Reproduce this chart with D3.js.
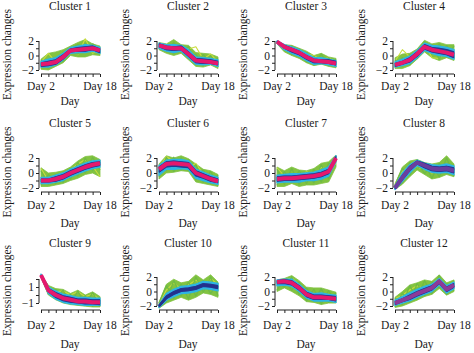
<!DOCTYPE html>
<html><head><meta charset="utf-8">
<script src="https://cdn.jsdelivr.net/npm/d3@7"></script>
<style>body{margin:0;background:#fff}svg{display:block}text{font-family:"Liberation Serif","DejaVu Serif",serif;fill:#1a1a1a}</style>
</head><body><svg id="c" width="474" height="353"></svg>
<script>
const days = ["Day 2","Day 4","Day 6","Day 8","Day 10","Day 12","Day 14","Day 16","Day 18"];
const clusterNames = ["Cluster 1","Cluster 2","Cluster 3","Cluster 4","Cluster 5","Cluster 6","Cluster 7","Cluster 8","Cluster 9","Cluster 10","Cluster 11","Cluster 12"];
// line order: yellow-green, green top, green bottom, green a, green b, cyan a, cyan b, blue a, blue b, centre
const lineKinds = ["Y","G","G","G","G","C","C","B","B","P"];
const cluster1 = [
 [-0.9,0.3,-0.9,-0.3,1.0,0.1,2.3,0.3,0.8],
 [-0.5,0.3,0.5,0.8,1.3,1.8,2.2,1.6,1.3],
 [-1.9,-2.0,-1.5,-1.0,0.0,-0.2,-0.2,0.1,0.0],
 [-1.4,-0.6,-1.0,0.4,0.9,1.5,1.0,1.6,0.9],
 [-0.6,-1.7,-0.5,-0.8,0.6,0.2,1.7,0.5,1.1],
 [-0.8,-0.5,-0.3,0.3,1.1,1.3,1.5,1.4,1.1],
 [-1.6,-1.6,-1.3,-0.6,0.3,0.4,0.4,0.6,0.3],
 [-1.0,-0.8,-0.6,0.1,0.9,1.1,1.2,1.3,0.9],
 [-1.5,-1.4,-1.2,-0.5,0.5,0.6,0.6,0.8,0.4],
 [-1.2,-1.1,-0.9,-0.2,0.7,0.8,0.9,1.0,0.7]];
const cluster2 = [
 [1.3,1.2,0.6,1.1,0.9,1.2,-0.5,0.2,-0.9],
 [1.8,1.6,2.2,1.5,1.4,0.4,0.3,0.2,-0.2],
 [0.8,0.3,0.0,0.3,-0.6,-1.5,-1.6,-1.3,-1.8],
 [1.5,0.6,1.8,0.5,1.2,-1.2,0.1,-1.1,-0.4],
 [1.1,1.5,0.3,1.4,-0.4,0.2,-1.4,0.0,-1.6],
 [1.7,1.5,1.5,1.4,0.8,-0.2,-0.3,-0.4,-0.6],
 [1.0,0.6,0.4,0.6,-0.3,-1.2,-1.3,-1.2,-1.5],
 [1.6,1.3,1.2,1.3,0.5,-0.4,-0.5,-0.6,-0.8],
 [1.2,0.8,0.7,0.8,-0.1,-1.0,-1.1,-1.1,-1.3],
 [1.4,1.1,1.0,1.0,0.2,-0.7,-0.8,-0.9,-1.1]];
const cluster3 = [
 [1.8,1.3,0.9,0.7,0.2,0.0,-0.6,-0.3,-1.0],
 [2.0,1.5,1.4,1.0,0.6,0.0,0.3,-0.2,-0.4],
 [1.6,0.5,0.0,-0.4,-1.0,-1.4,-1.2,-1.5,-1.7],
 [1.9,0.8,1.3,0.0,0.4,-1.3,0.2,-1.4,-0.5],
 [1.7,1.4,0.1,0.9,-0.9,-0.1,-1.1,-0.3,-1.6],
 [2.0,1.5,1.2,0.8,0.3,-0.3,-0.3,-0.5,-0.7],
 [1.7,0.8,0.3,-0.1,-0.7,-1.2,-1.1,-1.3,-1.5],
 [2.0,1.4,1.0,0.6,0.0,-0.5,-0.6,-0.6,-0.8],
 [1.8,1.0,0.5,0.1,-0.5,-1.0,-1.0,-1.1,-1.3],
 [1.9,1.2,0.8,0.4,-0.2,-0.7,-0.8,-0.9,-1.1]];
const cluster4 = [
 [-0.8,0.8,-0.2,0.4,1.8,-0.3,-0.4,0.6,0.9],
 [-0.3,0.2,0.3,0.9,2.1,1.6,1.8,1.5,1.5],
 [-1.8,-1.8,-1.4,-0.5,0.5,-0.3,-0.7,-0.3,-0.7],
 [-0.6,-1.5,0.1,-0.4,1.9,0.2,1.6,-0.2,1.3],
 [-1.6,-0.3,-1.3,0.7,0.8,1.5,-0.5,1.4,-0.5],
 [-0.9,-0.5,-0.1,0.7,1.7,1.4,1.3,1.1,0.8],
 [-1.6,-1.4,-1.1,-0.3,0.7,0.3,0.0,-0.1,-0.5],
 [-1.1,-0.8,-0.3,0.5,1.5,1.1,1.0,0.8,0.5],
 [-1.5,-1.2,-0.9,-0.1,0.9,0.5,0.3,0.1,-0.3],
 [-1.3,-1.0,-0.6,0.2,1.2,0.8,0.6,0.4,0.1]];
const cluster5 = [
 [0.6,-1.0,-0.9,-0.6,0.4,1.2,1.8,0.9,-0.5],
 [0.7,0.0,0.1,0.3,0.8,1.6,2.2,2.3,1.8],
 [-1.8,-1.8,-1.6,-1.4,-1.0,-0.7,-0.2,0.0,-0.5],
 [0.3,-1.5,-0.2,-1.2,0.6,-0.4,2.0,0.3,1.7],
 [-1.6,-0.2,-1.4,0.1,-0.8,1.4,0.0,2.1,0.4],
 [-0.6,-0.6,-0.3,0.0,0.5,0.9,1.3,1.6,1.7],
 [-1.4,-1.4,-1.2,-1.0,-0.5,-0.1,0.3,0.6,0.8],
 [-0.8,-0.8,-0.5,-0.2,0.3,0.7,1.1,1.4,1.5],
 [-1.2,-1.2,-1.1,-0.8,-0.3,0.1,0.5,0.8,1.0],
 [-1.0,-1.0,-0.8,-0.5,0.0,0.4,0.8,1.1,1.3]];
const cluster6 = [
 [0.6,2.2,1.5,1.3,0.6,1.3,-0.2,-0.6,-1.3],
 [1.2,2.3,2.0,2.3,1.9,1.2,0.5,0.3,-0.2],
 [-0.8,0.0,0.1,0.3,0.2,-1.2,-1.4,-1.6,-1.8],
 [0.9,0.3,2.1,0.4,1.8,-0.9,0.4,-1.4,-0.3],
 [-0.5,2.1,0.2,2.0,0.3,1.1,-1.2,0.2,-1.7],
 [1.0,1.7,1.8,1.8,1.6,0.5,0.1,-0.3,-0.6],
 [-0.3,0.5,0.5,0.6,0.5,-0.7,-1.0,-1.3,-1.5],
 [0.8,1.5,1.6,1.5,1.4,0.3,-0.1,-0.5,-0.8],
 [0.1,0.8,0.9,0.8,0.7,-0.4,-0.7,-1.1,-1.3],
 [0.5,1.2,1.3,1.2,1.1,0.0,-0.4,-0.8,-1.1]];
const cluster7 = [
 [0.7,-0.4,-0.2,-0.9,0.2,-0.5,0.8,0.3,1.2],
 [0.8,0.3,0.8,0.4,0.3,0.6,1.3,1.5,2.4],
 [-1.8,-1.8,-1.4,-1.8,-1.6,-1.6,-1.4,-1.2,0.8],
 [0.5,-1.5,0.6,-1.5,0.1,-1.3,1.1,-0.8,2.1],
 [-1.6,0.2,-1.3,0.3,-1.4,0.5,-1.2,1.3,1.0],
 [-0.3,-0.2,-0.1,-0.1,0.0,0.1,0.4,0.8,2.3],
 [-1.3,-1.2,-1.2,-1.2,-1.0,-1.0,-0.8,-0.4,1.5],
 [-0.5,-0.4,-0.4,-0.3,-0.2,-0.1,0.1,0.5,2.2],
 [-1.1,-1.0,-1.0,-0.9,-0.8,-0.7,-0.5,-0.1,1.8],
 [-0.8,-0.7,-0.7,-0.6,-0.5,-0.4,-0.2,0.2,2.0]];
const cluster8 = [
 [-1.4,0.2,0.9,0.6,0.8,0.0,0.5,1.0,0.6],
 [-1.5,0.8,1.6,1.8,1.4,1.2,1.4,2.3,1.2],
 [-2.2,-1.5,-0.5,0.4,-0.2,-0.8,-0.6,-0.2,-0.5],
 [-1.6,0.6,-0.3,1.7,-0.1,1.1,-0.5,2.0,-0.4],
 [-2.1,-1.3,1.4,0.5,1.3,-0.7,1.3,-0.1,1.1],
 [-1.7,0.0,1.1,1.7,1.3,1.1,1.0,1.2,0.9],
 [-2.2,-1.1,0.0,1.0,0.5,0.1,0.0,0.1,-0.2],
 [-1.8,-0.3,0.9,1.6,1.3,0.9,0.8,0.9,0.7],
 [-2.1,-0.9,0.3,1.2,0.7,0.3,0.2,0.3,0.0],
 [-2.0,-0.6,0.6,1.4,1.0,0.6,0.5,0.6,0.3]];
const cluster9 = [
 [2.4,0.9,0.4,0.5,0.0,0.4,-0.2,0.1,-0.6],
 [2.6,1.2,0.8,0.7,0.2,0.6,0.0,0.4,-0.2],
 [2.2,0.0,-0.6,-1.0,-1.2,-1.3,-1.4,-1.5,-1.5],
 [2.5,1.1,-0.4,0.6,-1.1,0.5,-1.3,0.3,-1.4],
 [2.3,0.1,0.7,-0.9,0.1,-1.2,-0.1,-1.4,-0.3],
 [2.6,1.0,0.5,0.1,-0.1,-0.3,-0.3,-0.4,-0.4],
 [2.3,0.2,-0.5,-0.9,-1.1,-1.2,-1.3,-1.3,-1.3],
 [2.5,0.8,0.3,-0.1,-0.3,-0.5,-0.5,-0.6,-0.6],
 [2.4,0.4,-0.3,-0.7,-0.9,-1.0,-1.1,-1.1,-1.2],
 [2.5,0.6,0.0,-0.4,-0.6,-0.8,-0.8,-0.9,-0.9]];
const cluster10 = [
 [-1.7,0.2,1.2,0.3,0.9,1.6,0.6,1.8,0.9],
 [-1.5,1.0,1.7,1.2,1.4,2.3,1.6,2.3,1.3],
 [-2.3,-1.6,-1.2,-0.8,-1.2,-0.8,-0.2,-0.4,-0.8],
 [-1.6,0.8,-0.9,1.0,-1.0,2.0,-0.1,2.0,-0.6],
 [-2.2,-1.4,1.5,-0.6,1.3,-0.6,1.5,-0.3,1.2],
 [-1.8,-0.3,0.3,0.7,0.8,1.0,1.4,1.3,1.1],
 [-2.2,-1.2,-0.7,-0.3,-0.2,0.0,0.4,0.3,0.1],
 [-1.9,-0.6,0.0,0.4,0.5,0.7,1.1,1.0,0.8],
 [-2.1,-1.0,-0.4,0.0,0.1,0.3,0.7,0.6,0.4],
 [-2.0,-0.8,-0.2,0.2,0.3,0.5,0.9,0.8,0.6]];
const cluster11 = [
 [1.2,1.5,1.9,0.9,-0.2,-0.9,-0.5,-0.8,-1.2],
 [1.6,1.8,2.2,1.5,0.6,0.5,0.5,0.2,-0.1],
 [0.0,0.5,0.0,-0.6,-1.4,-1.5,-1.8,-1.6,-1.6],
 [1.4,0.6,2.0,-0.4,0.5,-1.4,0.4,-1.5,-0.2],
 [0.2,1.7,0.2,1.3,-1.3,0.3,-1.7,0.1,-1.5],
 [1.6,1.7,1.7,1.0,0.1,-0.3,-0.2,-0.4,-0.5],
 [0.8,0.9,0.7,0.0,-0.9,-1.3,-1.3,-1.3,-1.5],
 [1.5,1.6,1.5,0.8,-0.1,-0.5,-0.5,-0.6,-0.7],
 [1.1,1.1,0.9,0.2,-0.7,-1.1,-1.1,-1.1,-1.3],
 [1.3,1.4,1.2,0.5,-0.4,-0.8,-0.8,-0.9,-1.0]];
const cluster12 = [
 [-1.0,-0.5,0.2,0.8,0.3,0.9,1.9,0.2,1.4],
 [-0.8,0.0,0.9,1.2,1.6,1.4,2.3,1.2,1.6],
 [-2.2,-2.0,-1.6,-1.2,-0.7,-0.4,0.4,-0.5,0.0],
 [-0.9,-1.8,0.8,-1.0,1.5,-0.3,2.2,-0.4,1.5],
 [-2.1,-0.2,-1.5,1.1,-0.6,1.3,0.5,1.1,0.1],
 [-1.2,-0.7,-0.2,0.3,0.7,1.0,1.8,0.8,1.3],
 [-1.9,-1.6,-1.3,-0.8,-0.4,0.0,0.9,-0.2,0.4],
 [-1.4,-1.0,-0.5,0.0,0.4,0.8,1.6,0.6,1.1],
 [-1.8,-1.4,-1.1,-0.6,-0.2,0.2,1.1,0.0,0.6],
 [-1.6,-1.2,-0.8,-0.3,0.1,0.5,1.4,0.3,0.9]];
const clusters = [cluster1,cluster2,cluster3,cluster4,cluster5,cluster6,cluster7,cluster8,cluster9,cluster10,cluster11,cluster12];
const centreColors = ["#e5186d","#e5186d","#e5186d","#e5186d","#e5186d","#e5186d","#e5186d","#6b3d9e","#e5186d","#23318c","#e5186d","#8d3a98"];
const yTicksDefault = [-2,-1,0,1,2];
const yLabelsDefault = [-2,0,2];
const yTicks9 = [-1,0,1,2];
const yLabels9 = [-1,1];

const kindColor = {Y:"#cbdc3c", G:"#6fbb45", C:"#2aabe0", B:"#283592"};
const bandColor = {G:"#82c341", C:"#2db4e4", B:"#2b3f98"};
const kindWidth = {Y:1.1, G:1.3, C:1.6, B:1.2, P:4};

const svg = d3.select("#c");
const colX = [0,118,236,354];
const rowTop = [41,158,277];
const rowSpan = [29,30,29];
const rowTitle = [10,127,247];
const rowDayLab = [90,209,329];
const rowDay = [105,227,348];
const fmt = v => v < 0 ? "\u2212" + Math.abs(v) : String(v);

clusters.forEach((lines, i) => {
  const r = Math.floor(i/4), c = i%4;
  const g = svg.append("g").attr("transform", `translate(${colX[c]},0)`);
  const x = d3.scalePoint().domain(days).range([41,100]);
  let y;
  if (i === 8) {
    y = d3.scaleLinear().domain([-1,1]).range([303,287]);
  } else {
    y = d3.scaleLinear().domain([-2,2]).range([rowTop[r]+rowSpan[r], rowTop[r]]);
  }
  const line = d3.line().x((d,k)=>x(days[k])).y(d=>y(d));
  const band = (a, b) => d3.area().x((d,k)=>x(days[k])).y0((d,k)=>y(a[k])).y1((d,k)=>y(b[k]))(a);
  // green envelope band
  g.append("path").attr("d", band(lines[1], lines[2])).attr("fill", bandColor.G).attr("stroke", bandColor.G).attr("stroke-width",0.8).attr("stroke-linejoin","round");
  // yellow-green and green lines
  [0,3,4].forEach(k => {
    g.append("path").attr("d", line(lines[k])).attr("fill","none")
      .attr("stroke", kindColor[lineKinds[k]]).attr("stroke-width", kindWidth[lineKinds[k]]).attr("stroke-linejoin","round");
  });
  // cyan band
  g.append("path").attr("d", band(lines[5], lines[6])).attr("fill", bandColor.C).attr("stroke", bandColor.C).attr("stroke-width",1.4).attr("stroke-linejoin","round");
  // blue band
  g.append("path").attr("d", band(lines[7], lines[8])).attr("fill", bandColor.B).attr("stroke", bandColor.B).attr("stroke-width",0.6).attr("stroke-linejoin","round");
  [7,8].forEach(k => {
    g.append("path").attr("d", line(lines[k])).attr("fill","none")
      .attr("stroke", kindColor.B).attr("stroke-width", kindWidth.B).attr("stroke-linejoin","round");
  });
  // centre line
  g.append("path").attr("d", line(lines[9])).attr("fill","none")
    .attr("stroke", centreColors[i]).attr("stroke-width", i === 9 ? 2.6 : kindWidth.P).attr("stroke-linejoin","round");
  // y axis
  const ticks = i === 8 ? yTicks9 : yTicksDefault;
  const labs = i === 8 ? yLabels9 : yLabelsDefault;
  const ya = d3.axisLeft(y).tickValues(ticks).tickSize(3).tickFormat(v => labs.includes(v) ? fmt(v) : "");
  const yg = g.append("g").attr("transform","translate(39,0)").call(ya);
  yg.select(".domain").attr("d", `M-0,${y(ticks[0])}V${y(ticks[ticks.length-1])}`).attr("stroke","#222");
  yg.selectAll(".tick line").attr("stroke","#222");
  yg.selectAll(".tick text").attr("font-size",11.5).attr("font-family","Liberation Serif").attr("fill","#1a1a1a").attr("x",-5);
  // x axis
  const axY = rowTop[r] + rowSpan[r] + 4;
  const xa = d3.axisBottom(x).tickSize(3).tickFormat("");
  const xg = g.append("g").attr("transform",`translate(0,${axY})`).call(xa);
  xg.select(".domain").attr("d","M41,0H100").attr("stroke","#222");
  xg.selectAll(".tick line").attr("stroke","#222");
  [days[0], days[days.length-1]].forEach(d => {
    g.append("text").attr("x", x(d)).attr("y", rowDayLab[r]).attr("text-anchor","middle").attr("font-size",11.5).text(d);
  });
  g.append("text").attr("x",70).attr("y",rowDay[r]).attr("text-anchor","middle").attr("font-size",11.5).text("Day");
  g.append("text").attr("x",70).attr("y",rowTitle[r]).attr("text-anchor","middle").attr("font-size",11.5).text(clusterNames[i]);
  const mid = (rowTop[r]*2 + rowSpan[r])/2 - 1;
  g.append("text").attr("transform",`translate(11,${mid}) rotate(-90)`).attr("text-anchor","middle").attr("font-size",11.5).text("Expression changes");
});
</script></body></html>
